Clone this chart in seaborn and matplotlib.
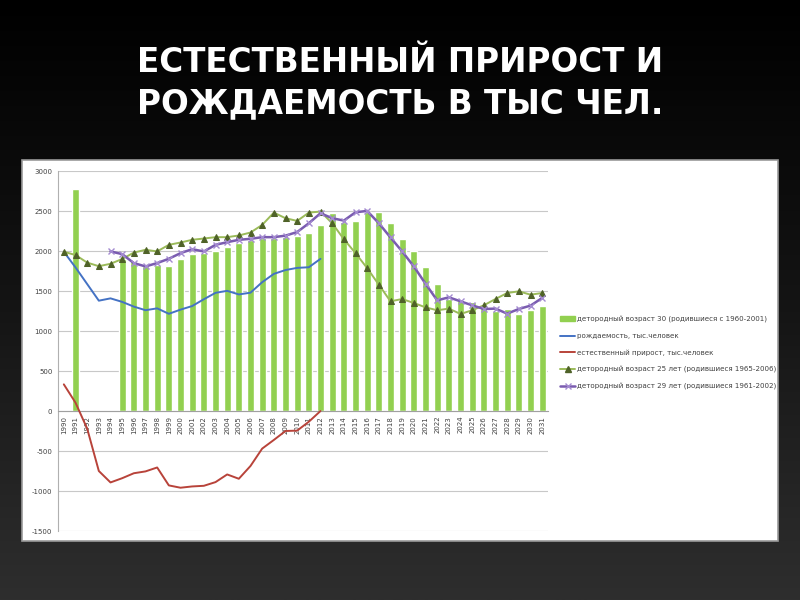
import numpy as np
import pandas as pd
import matplotlib
matplotlib.use("Agg")
import matplotlib.pyplot as plt
import seaborn as sns
from matplotlib.patches import Rectangle, Patch
from matplotlib.lines import Line2D
from matplotlib.colors import LinearSegmentedColormap

nan = np.nan
years = list(range(1990, 2032))

# детородный возраст 30 (bars)
age30 = [nan, 2780, nan, nan, nan, 1900, 1880, 1810, 1820, 1815,
         1903, 1965, 1975, 1994, 2056, 2098, 2140, 2160, 2160, 2173,
         2190, 2231, 2322, 2472, 2368, 2376, 2493, 2493, 2347, 2156,
         1994, 1795, 1587, 1400, 1392, 1359, 1329, 1255, 1280, 1213,
         1263, 1309]
# рождаемость
births = [1990, 1795, 1587, 1379, 1408, 1364, 1305, 1260, 1283, 1215,
          1267, 1312, 1397, 1477, 1502, 1457, 1479, 1610, 1714, 1762,
          1789, 1797, 1902] + [nan] * 19
# естественный прирост
natural = [333, 104, -220, -750, -893, -840, -778, -755, -706, -930,
           -959, -943, -935, -889, -793, -847, -687, -470, -362, -250,
           -245, -134, 0] + [nan] * 19
# детородный возраст 25
age25 = [1990, 1950, 1855, 1810, 1840, 1900, 1980, 2015, 1995, 2077,
         2106, 2140, 2156, 2173, 2173, 2194, 2231, 2326, 2480, 2410,
         2376, 2480, 2493, 2347, 2148, 1973, 1786, 1579, 1371, 1400,
         1350, 1296, 1259, 1280, 1213, 1259, 1321, 1400, 1475, 1496,
         1454, 1475]
# детородный возраст 29
age29 = [nan] * 4 + [1995, 1961, 1849, 1807, 1849, 1903,
         1973, 2023, 1994, 2077, 2110, 2140, 2152, 2173, 2173, 2192,
         2237, 2347, 2472, 2410, 2380, 2484, 2501, 2347, 2169, 1994,
         1807, 1591, 1383, 1421, 1371, 1321, 1275, 1280, 1217, 1275,
         1317, 1413]

labels = ["детородный возраст 30 (родившиеся с 1960-2001)",
          "рождаемость, тыс.человек",
          "естественный прирост, тыс.человек",
          "детородный возраст 25 лет (родившиеся 1965-2006)",
          "детородный возраст 29 лет (родившиеся 1961-2002)"]
title = "ЕСТЕСТВЕННЫЙ ПРИРОСТ И\nРОЖДАЕМОСТЬ В ТЫС ЧЕЛ."

df = pd.DataFrame({"year": years, "age30": age30, "births": births,
                   "natural": natural, "age25": age25, "age29": age29})

sns.set_theme(style="white")
plt.rcParams["font.family"] = ["DejaVu Sans"]
plt.rcParams["axes.unicode_minus"] = False

fig = plt.figure(figsize=(8, 6), dpi=100)

# gradient background
bg = fig.add_axes([0, 0, 1, 1], zorder=-10)
grad = np.linspace(0, 1, 256).reshape(-1, 1)
cmap = LinearSegmentedColormap.from_list("bg", ["#000000", "#141414", "#2e2e2e"])
bg.imshow(grad, aspect="auto", cmap=cmap, extent=[0, 1, 0, 1], origin="upper")
bg.set_axis_off()

# white panel
fig.patches.append(Rectangle((22 / 800, 1 - 541 / 600), 756 / 800, 381 / 600,
                             transform=fig.transFigure, facecolor="white",
                             edgecolor="#9a9a9a", linewidth=1.2, zorder=-5))

fig.text(0.5, 1 - 83 / 600, title, ha="center", va="center", color="white",
         fontsize=23.5, fontweight="bold", linespacing=1.3)

ax = fig.add_axes([58 / 800, 69 / 600, 490 / 800, 360 / 600])
ax.set_facecolor("none")

bar_color = "#92D050"
sns.barplot(data=df.dropna(subset=["age30"]), x="year", y="age30",
            native_scale=True, color=bar_color, width=0.6, saturation=1,
            ax=ax, zorder=2)

sns.lineplot(data=df.dropna(subset=["births"]), x="year", y="births",
             color="#4472C4", linewidth=1.4, ax=ax, zorder=3)
sns.lineplot(data=df.dropna(subset=["natural"]), x="year", y="natural",
             color="#B8433A", linewidth=1.4, ax=ax, zorder=3)
sns.lineplot(data=df.dropna(subset=["age25"]), x="year", y="age25",
             color="#9BBB59", linewidth=1.4, marker="^", markersize=5,
             markerfacecolor="#4F6228", markeredgecolor="#4F6228", ax=ax, zorder=4)
sns.lineplot(data=df.dropna(subset=["age29"]), x="year", y="age29",
             color="#7A5CB0", linewidth=1.8, marker="x", markersize=5,
             markeredgecolor="#A48BD0", markeredgewidth=1.0, ax=ax, zorder=5)

ax.set_xlim(1989.5, 2031.5)
ax.set_ylim(-1500, 3000)
ax.set_yticks(range(-1500, 3001, 500))
ax.set_xticks(years)
ax.set_xticklabels([str(y) for y in years])
ax.yaxis.grid(True, color="#c8c8c8", linewidth=0.8)
ax.xaxis.grid(False)
ax.set_axisbelow(True)
ax.tick_params(axis="y", labelsize=5, colors="#404040", length=2, width=0.6, pad=2)
ax.tick_params(axis="x", labelsize=5, labelrotation=90, length=2, width=0.6, pad=1.5,
               colors="#808080", labelcolor="#404040")
ax.set_xlabel("")
ax.set_ylabel("")
for s in ["top", "right"]:
    ax.spines[s].set_visible(False)
ax.spines["bottom"].set_position(("data", 0))
ax.spines["bottom"].set_color("#a0a0a0")
ax.spines["bottom"].set_linewidth(0.8)
ax.spines["left"].set_color("#b0b0b0")
ax.spines["left"].set_linewidth(0.8)

handles = [Patch(facecolor=bar_color, edgecolor=bar_color),
           Line2D([], [], color="#4472C4", linewidth=1.4),
           Line2D([], [], color="#B8433A", linewidth=1.4),
           Line2D([], [], color="#9BBB59", linewidth=1.4, marker="^", markersize=4,
                  markerfacecolor="#4F6228", markeredgecolor="#4F6228"),
           Line2D([], [], color="#7A5CB0", linewidth=1.8, marker="x", markersize=4,
                  markeredgecolor="#A48BD0")]
fig.legend(handles, labels, loc="upper left", bbox_to_anchor=(557 / 800, 1 - 313 / 600),
           frameon=False, fontsize=5.1, handlelength=2.2, handletextpad=0.2,
           labelspacing=1.45, labelcolor="#404040", borderaxespad=0)

fig.savefig("out.png", dpi=100)
